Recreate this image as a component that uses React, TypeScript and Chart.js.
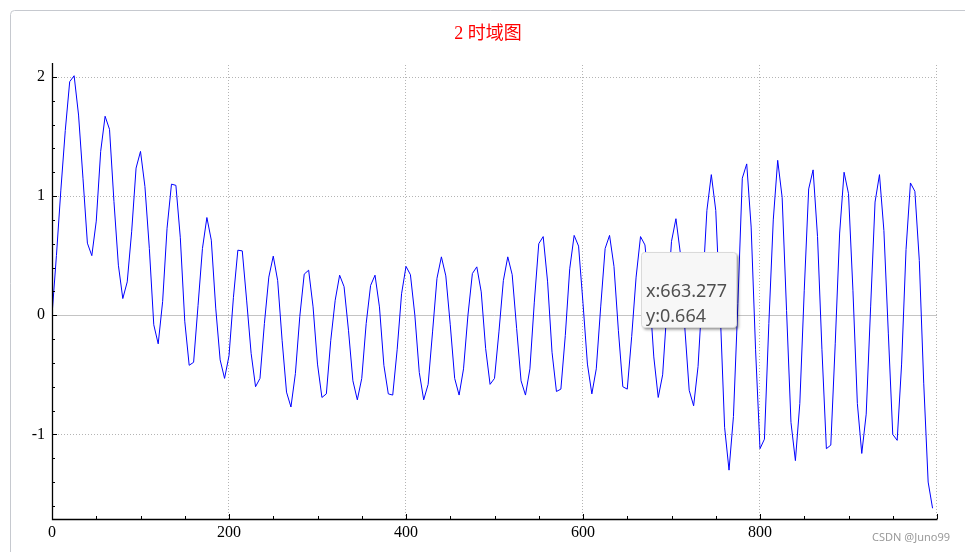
import React, { useEffect, useRef } from 'react';
import { Chart, registerables } from 'chart.js';

Chart.register(...registerables);

const TITLE = '2 时域图';
const SAMPLE_STEP = 5;
const SIGNAL: number[] = [
  0.0, 0.5, 1.05, 1.55, 1.96, 2.01, 1.68, 1.15, 0.605, 0.5,
  0.79, 1.375, 1.67, 1.56, 0.955, 0.42, 0.14, 0.28, 0.7, 1.235,
  1.375, 1.08, 0.56, -0.08, -0.24, 0.115, 0.73, 1.1, 1.09, 0.65,
  -0.05, -0.42, -0.395, 0.08, 0.56, 0.82, 0.63, 0.06, -0.375, -0.53,
  -0.34, 0.15, 0.546, 0.54, 0.12, -0.32, -0.6, -0.53, -0.07, 0.32,
  0.496, 0.29, -0.21, -0.645, -0.77, -0.49, -0.01, 0.345, 0.378, 0.07,
  -0.41, -0.69, -0.66, -0.21, 0.126, 0.336, 0.24, -0.126, -0.55, -0.71,
  -0.53, -0.07, 0.25, 0.336, 0.07, -0.42, -0.66, -0.67, -0.29, 0.18,
  0.41, 0.34, 0.0, -0.48, -0.71, -0.58, -0.14, 0.31, 0.49, 0.33,
  -0.08, -0.53, -0.67, -0.45, 0.0, 0.35, 0.406, 0.196, -0.28, -0.58,
  -0.53, -0.14, 0.29, 0.49, 0.34, -0.11, -0.55, -0.67, -0.45, 0.11,
  0.6, 0.66, 0.28, -0.31, -0.64, -0.62, -0.17, 0.39, 0.67, 0.58,
  0.1, -0.41, -0.66, -0.45, 0.07, 0.56, 0.67, 0.41, -0.13, -0.6,
  -0.62, -0.18, 0.32, 0.66, 0.59, 0.21, -0.35, -0.69, -0.5, 0.07,
  0.62, 0.81, 0.52, -0.1, -0.63, -0.76, -0.43, 0.21, 0.88, 1.18,
  0.88, 0.04, -0.94, -1.3, -0.85, 0.1, 1.15, 1.27, 0.74, -0.29,
  -1.12, -1.04, -0.07, 0.8, 1.3, 0.99, 0.04, -0.9, -1.22, -0.74,
  0.21, 1.06, 1.22, 0.66, -0.29, -1.12, -1.09, -0.24, 0.69, 1.2,
  1.02, 0.21, -0.74, -1.16, -0.83, 0.07, 0.95, 1.18, 0.71, -0.15,
  -1.0, -1.05, -0.41, 0.55, 1.11, 1.04, 0.46, -0.57, -1.4, -1.62,
];
const X_TICKS = [0, 200, 400, 600, 800, 1000];
const Y_TICKS = [-1, 0, 1, 2];
const X_MIN = 0;
const X_MAX = 1000;
const Y_MIN = -1.71;
const Y_MAX = 2.1;
const X_MINOR_STEP = 50;
const Y_MINOR_STEP = 0.2;
const CALLOUT_X = 663.277;
const CALLOUT_Y = 0.664;
const CALLOUT_LINES = ['x:' + CALLOUT_X.toFixed(3), 'y:' + CALLOUT_Y.toFixed(3)];
const WATERMARK = 'CSDN @Juno99';

const SERIF = "'Liberation Serif', 'Noto Sans CJK SC', serif";

const decorPlugin = {
  id: 'decor',
  beforeDatasetsDraw(chart: any) {
    const { ctx, chartArea: a, scales } = chart;
    const x = scales.x;
    const y = scales.y;
    ctx.save();
    ctx.lineWidth = 1;
    ctx.strokeStyle = '#b4b4b4';
    ctx.setLineDash([1, 2]);
    for (const v of X_TICKS) {
      if (v === X_MIN) continue;
      const px = Math.round(x.getPixelForValue(v)) - 0.5;
      ctx.beginPath();
      ctx.moveTo(px, a.top);
      ctx.lineTo(px, a.bottom);
      ctx.stroke();
    }
    for (const v of Y_TICKS) {
      if (v === 0) continue;
      const py = Math.round(y.getPixelForValue(v)) + 0.5;
      ctx.beginPath();
      ctx.moveTo(a.left, py);
      ctx.lineTo(a.right, py);
      ctx.stroke();
    }
    ctx.setLineDash([]);
    ctx.strokeStyle = '#c4c4c4';
    const zy = Math.round(y.getPixelForValue(0)) + 0.5;
    ctx.beginPath();
    ctx.moveTo(a.left, zy);
    ctx.lineTo(a.right, zy);
    ctx.stroke();
    ctx.restore();
  },
  afterDatasetsDraw(chart: any) {
    const { ctx, chartArea: a, scales } = chart;
    const x = scales.x;
    const y = scales.y;
    ctx.save();
    // axes
    ctx.strokeStyle = '#000';
    ctx.lineWidth = 1.3;
    ctx.beginPath();
    ctx.moveTo(a.left + 0.5, a.top - 2);
    ctx.lineTo(a.left + 0.5, a.bottom + 0.5);
    ctx.lineTo(a.right + 0.5, a.bottom + 0.5);
    ctx.stroke();
    ctx.lineWidth = 1;
    // x ticks
    for (let v = X_MIN; v <= X_MAX + 1e-9; v += X_MINOR_STEP) {
      const major = X_TICKS.includes(v);
      const px = Math.round(x.getPixelForValue(v)) + 0.5;
      ctx.beginPath();
      ctx.moveTo(px, a.bottom);
      ctx.lineTo(px, a.bottom - (major ? 5 : 3));
      ctx.stroke();
    }
    // y ticks
    const startY = Math.ceil((Y_MIN - 1e-9) / Y_MINOR_STEP);
    const endY = Math.floor((Y_MAX + 1e-9) / Y_MINOR_STEP);
    for (let k = startY; k <= endY; k++) {
      const v = k * Y_MINOR_STEP;
      const major = Y_TICKS.some((t) => Math.abs(t - v) < 1e-6);
      const py = Math.round(y.getPixelForValue(v)) + 0.5;
      ctx.beginPath();
      ctx.moveTo(a.left, py);
      ctx.lineTo(a.left + (major ? 5 : 3), py);
      ctx.stroke();
    }
    // callout
    const ax = x.getPixelForValue(CALLOUT_X);
    const ay = y.getPixelForValue(CALLOUT_Y);
    const bx = Math.round(ax + 2) + 0.5;
    const by = Math.round(ay + 16) + 0.5;
    const bw = 95;
    const bh = 75;
    ctx.save();
    ctx.shadowColor = 'rgba(0,0,0,0.45)';
    ctx.shadowOffsetX = 2;
    ctx.shadowOffsetY = 2;
    ctx.shadowBlur = 3;
    ctx.fillStyle = '#f7f7f7';
    ctx.beginPath();
    ctx.roundRect(bx, by, bw, bh, 3);
    ctx.fill();
    ctx.restore();
    ctx.strokeStyle = '#dadada';
    ctx.beginPath();
    ctx.roundRect(bx, by, bw, bh, 3);
    ctx.stroke();
    ctx.fillStyle = '#505050';
    ctx.font = "18px 'Noto Sans', sans-serif";
    ctx.textAlign = 'left';
    ctx.textBaseline = 'alphabetic';
    ctx.fillText(CALLOUT_LINES[0], bx + 4.5, by + 44.5);
    ctx.fillText(CALLOUT_LINES[1], bx + 4.5, by + 69.5);
    ctx.restore();
  },
  afterDraw(chart: any) {
    const { ctx } = chart;
    ctx.save();
    ctx.strokeStyle = '#c6c9cf';
    ctx.lineWidth = 1;
    ctx.beginPath();
    ctx.roundRect(10.5, 10.5, 1000, 600, 4);
    ctx.stroke();
    // title
    ctx.fillStyle = '#ff0000';
    ctx.font = "18px " + SERIF;
    ctx.textAlign = 'center';
    ctx.textBaseline = 'middle';
    ctx.fillText(TITLE, 488, 34);
    // watermark
    ctx.fillStyle = '#9a9a9a';
    ctx.font = "11px 'Noto Sans', sans-serif";
    ctx.textAlign = 'right';
    ctx.textBaseline = 'alphabetic';
    ctx.fillText(WATERMARK, 950, 541);
    ctx.restore();
  },
};

export default function App() {
  const ref = useRef<HTMLCanvasElement | null>(null);
  useEffect(() => {
    if (!ref.current) return;
    const points = SIGNAL.map((v, i) => ({ x: i * SAMPLE_STEP, y: v }));
    const tickFont = { family: SERIF, size: 16 };
    const chart = new Chart(ref.current, {
      type: 'line',
      data: {
        datasets: [
          {
            data: points,
            borderColor: '#0000ff',
            borderWidth: 1,
            pointRadius: 0,
            tension: 0,
            fill: false,
          },
        ],
      },
      options: {
        animation: false,
        responsive: false,
        devicePixelRatio: 1,
        layout: { padding: { left: 0, right: 28, top: 65, bottom: 0 } },
        plugins: {
          legend: { display: false },
          tooltip: { enabled: false },
          title: { display: false },
        },
        scales: {
          x: {
            type: 'linear',
            min: X_MIN,
            max: X_MAX,
            grid: { display: false, drawTicks: false },
            border: { display: false },
            afterBuildTicks: (s: any) => {
              s.ticks = X_TICKS.map((v) => ({ value: v }));
            },
            afterFit: (s: any) => {
              s.height = 33;
            },
            ticks: {
              autoSkip: false,
              maxRotation: 0,
              padding: 4,
              color: '#000',
              font: tickFont,
              callback: (v: any) => (v === X_MAX ? '' : String(v)),
            },
          },
          y: {
            type: 'linear',
            min: Y_MIN,
            max: Y_MAX,
            grid: { display: false, drawTicks: false },
            border: { display: false },
            afterBuildTicks: (s: any) => {
              s.ticks = Y_TICKS.map((v) => ({ value: v }));
            },
            afterFit: (s: any) => {
              s.width = 52;
            },
            ticks: {
              autoSkip: false,
              padding: 7,
              color: '#000',
              font: tickFont,
              callback: (v: any) => String(v),
            },
          },
        },
      },
      plugins: [decorPlugin],
    } as any);
    return () => chart.destroy();
  }, []);
  return (
    <div style={{ position: 'fixed', left: 0, top: 0, width: 965, height: 552, overflow: 'hidden', background: '#fff' }}>
      <canvas ref={ref} width={965} height={552} style={{ display: 'block' }} />
    </div>
  );
}
